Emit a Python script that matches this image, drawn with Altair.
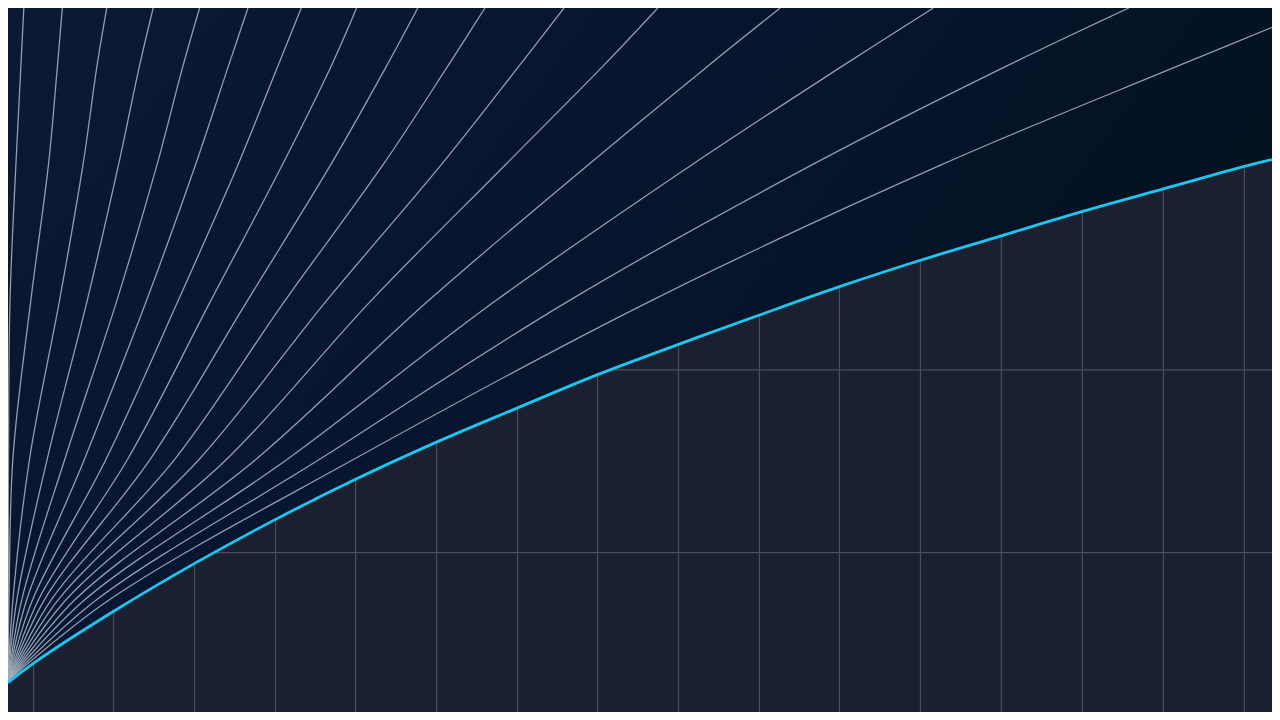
import altair as alt
import pandas as pd

# ---------------- data (pixel-style units, y from top) ----------------
cyan_x = [0, 26, 107, 189, 271, 352, 434, 516, 597, 679, 761, 842, 924, 1006, 1088, 1170, 1252, 1280]
cyan_y = [690, 670, 617, 568, 523, 482, 444, 409, 375, 344, 314, 285, 258, 233, 208, 185, 162, 155]

grid_x = [26, 107, 189, 271, 352, 434, 516, 597, 679, 761, 842, 924, 1006, 1088, 1170, 1252]
grid_y = [370, 557]

# rows (y) at which every fan line's x position was read
fan_y = [0, 60, 160, 300, 460, 605, 688]
fan_x = [
    [16, 13, 8, 2, 0.5, 0.2, 0],
    [55, 50, 41, 23, 5, 1, 0],
    [100, 90, 76, 52, 22, 5, 0],
    [147, 133, 112, 80, 40, 9, 0],
    [194, 177, 151, 110, 58, 14, 0],
    [243, 223, 190, 140, 78, 19, 0],
    [297, 273, 233, 172, 100, 25, 0],
    [353, 327, 278, 205, 122, 31, 0],
    [415, 383, 327, 242, 145, 37, 0],
    [483, 445, 380, 280, 170, 44, 0],
    [563, 517, 439, 322, 195, 51, 0],
    [658, 602, 504, 367, 223, 59, 0],
    [782, 708, 588, 425, 253, 68, 0],
    [937, 844, 693, 493, 285, 78, 0],
    [1135, 1010, 815, 567, 318, 90, 0],
    [1328, 1183, 946, 650, 353, 103, 0],  # leaves the right edge at y≈20
]

# ---------------- tables ----------------
cyan_df = pd.DataFrame({"x": cyan_x, "y": cyan_y, "top": [0] * len(cyan_x)})
fan_rows = []
for i, xs_ in enumerate(fan_x):
    for k, (xv, yv) in enumerate(zip(xs_, fan_y)):
        fan_rows.append({"x": xv, "y": yv, "line": f"L{i + 1:02d}", "k": k})
fan_df = pd.DataFrame(fan_rows)
gx_df = pd.DataFrame({"x": grid_x})
gy_df = pd.DataFrame({"y": grid_y})

W, H = 1264, 704
xs = alt.Scale(domain=[0, 1280], nice=False, zero=False)
ys = alt.Scale(domain=[0, 720], nice=False, zero=False, reverse=True)

grid_v = alt.Chart(gx_df).mark_rule(color="#474e5c", strokeWidth=1.2).encode(
    x=alt.X("x:Q", scale=xs, axis=None)
)
grid_h = alt.Chart(gy_df).mark_rule(color="#474e5c", strokeWidth=1.2).encode(
    y=alt.Y("y:Q", scale=ys, axis=None)
)

navy = alt.Chart(cyan_df).mark_area(
    interpolate="catmull-rom",
    color=alt.Gradient(
        gradient="linear",
        stops=[
            alt.GradientStop(color="#0a1a35", offset=0),
            alt.GradientStop(color="#061630", offset=0.45),
            alt.GradientStop(color="#04111f", offset=1),
        ],
        x1=0, y1=0, x2=1, y2=0.4,
    ),
).encode(
    x=alt.X("x:Q", scale=xs, axis=None),
    y=alt.Y("y:Q", scale=ys, axis=None),
    y2=alt.Y2("top:Q"),
)

fan = alt.Chart(fan_df).mark_line(
    interpolate="catmull-rom", color="#a0adbd", strokeWidth=1.3, opacity=0.9, clip=True
).encode(
    x=alt.X("x:Q", scale=xs, axis=None),
    y=alt.Y("y:Q", scale=ys, axis=None),
    detail="line:N",
    order="k:Q",
)

cyan = alt.Chart(cyan_df).mark_line(
    interpolate="catmull-rom", color="#1ec6ef", strokeWidth=2.8, clip=True
).encode(
    x=alt.X("x:Q", scale=xs, axis=None),
    y=alt.Y("y:Q", scale=ys, axis=None),
)

chart = (
    alt.layer(grid_v, grid_h, navy, fan, cyan)
    .properties(width=W, height=H, padding=0, background="#1a2030",
                autosize=alt.AutoSizeParams(type="none"))
    .configure_view(stroke=None)
)

chart.save("out.html", embed_options={"renderer": "svg", "actions": False})
